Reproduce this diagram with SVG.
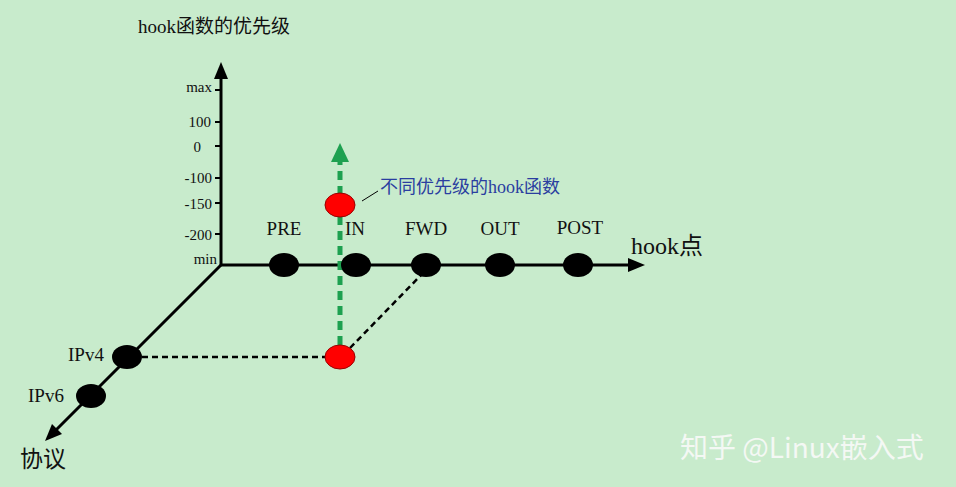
<svg xmlns="http://www.w3.org/2000/svg" width="956" height="487" viewBox="0 0 956 487">
<style>
text{font-family:"Liberation Serif","Noto Sans CJK SC",serif;fill:#111}
.t{font-size:15px;text-anchor:end}
.l{font-size:19px;text-anchor:middle}
.ax{stroke:#000;stroke-width:3;fill:none}
.dot{fill:#000}
.red{fill:#f00;stroke:#900;stroke-width:1}
</style>
<rect width="956" height="487" fill="#c8ebcc"/>
<g id="connectors">
<line class="ax" x1="221" y1="265" x2="221" y2="78"/>
<path d="M221,62 L214,79 L228,79 Z" fill="#000"/>
<line class="ax" x1="221" y1="265" x2="630" y2="265"/>
<path d="M645,265 L628,258 L628,272 Z" fill="#000"/>
<line class="ax" x1="221" y1="265" x2="56" y2="430"/>
<path d="M45,441 L52,424 L62,434 Z" fill="#000"/>
<g stroke="#000" stroke-width="2">
<line x1="215" y1="90" x2="221" y2="90"/>
<line x1="215" y1="122" x2="221" y2="122"/>
<line x1="215" y1="146" x2="221" y2="146"/>
<line x1="215" y1="178" x2="221" y2="178"/>
<line x1="215" y1="203" x2="221" y2="203"/>
<line x1="215" y1="234" x2="221" y2="234"/>
</g>
<line x1="142" y1="357" x2="326" y2="357" stroke="#000" stroke-width="2.5" stroke-dasharray="6,4"/>
<line x1="350" y1="348" x2="426" y2="270" stroke="#000" stroke-width="2.5" stroke-dasharray="6,4"/>
<line x1="340" y1="345" x2="340" y2="160" stroke="#1ea050" stroke-width="5" stroke-dasharray="9,6"/>
<path d="M340,143 L331,162 L349,162 Z" fill="#1ea050"/>
<line x1="362" y1="201" x2="378" y2="191" stroke="#000" stroke-width="1"/>
</g>
<g id="axis-labels">
<text x="138" y="33" style="font-size:19px">hook函数的优先级</text>
<text class="t" x="212" y="92">max</text>
<text class="t" x="211" y="127">100</text>
<text class="t" x="201" y="152">0</text>
<text class="t" x="212" y="183">-100</text>
<text class="t" x="212" y="209">-150</text>
<text class="t" x="212" y="240">-200</text>
<text class="t" x="217" y="264">min</text>
<text x="631" y="254" style="font-size:24px">hook点</text>
<text x="20" y="467" style="font-size:23px">协议</text>
</g>
<g id="node-PRE"><ellipse class="dot" cx="284" cy="265" rx="15" ry="12"/><text class="l" x="284" y="235">PRE</text></g>
<g id="node-IN"><ellipse class="dot" cx="356" cy="265" rx="15" ry="12"/><text class="l" x="355" y="235">IN</text></g>
<g id="node-FWD"><ellipse class="dot" cx="426" cy="265" rx="15" ry="12"/><text class="l" x="426" y="235">FWD</text></g>
<g id="node-OUT"><ellipse class="dot" cx="500" cy="265" rx="15" ry="12"/><text class="l" x="500" y="235">OUT</text></g>
<g id="node-POST"><ellipse class="dot" cx="578" cy="265" rx="15" ry="12"/><text class="l" x="580" y="234">POST</text></g>
<g id="node-IPv4"><ellipse class="dot" cx="127" cy="357" rx="15" ry="12"/><text class="l" x="86" y="361">IPv4</text></g>
<g id="node-IPv6"><ellipse class="dot" cx="91" cy="396" rx="15" ry="12"/><text class="l" x="46" y="402">IPv6</text></g>
<g id="node-red-low"><ellipse class="red" cx="340" cy="357" rx="15" ry="12"/></g>
<g id="node-red-high"><ellipse class="red" cx="340" cy="205" rx="15" ry="12"/>
<text x="380" y="193" style="font-size:18px;fill:#2a3ea0">不同优先级的hook函数</text></g>
<text x="680" y="458" style="font-size:28px;fill:#f4f8f4;font-family:'Noto Sans CJK SC',sans-serif">知乎 @Linux嵌入式</text>
</svg>
